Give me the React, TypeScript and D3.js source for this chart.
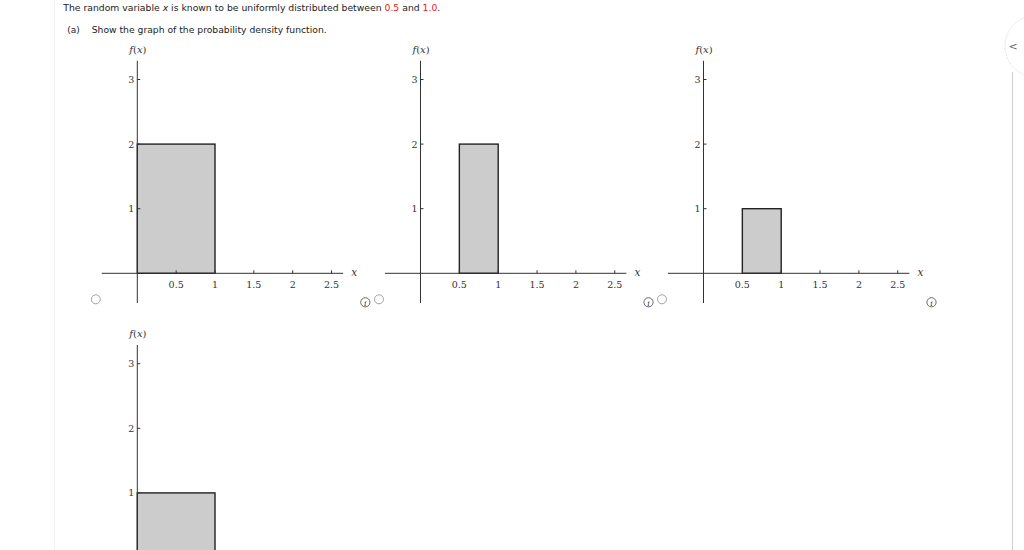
import React from "react";
import * as d3 from "d3";

// ---- data ----
const xTicks = [0.5, 1, 1.5, 2, 2.5];
const xTickLabels = ["0.5", "1", "1.5", "2", "2.5"];
const yTicks = [1, 2, 3];
const yTickLabels = ["1", "2", "3"];
const optionStart = [0, 0.5, 0.5, 0];
const optionEnd = [1, 1, 1, 1];
const optionHeight = [2, 2, 1, 1];
const hasInfo = [true, true, true, false];

// ---- layout ----
const W = 1024;
const H = 550;
const origins: [number, number][] = [
  [137.3, 273.3],
  [420.5, 273.3],
  [703.5, 273.3],
  [137.3, 557.5],
];
const pxPerX = 77.7;
const pxPerY = 64.6;

const serif = "'DejaVu Serif', 'Liberation Serif', serif";
const sans = "'DejaVu Sans', Verdana, sans-serif";

function Chart({ idx }: { idx: number }) {
  const [ox, oy] = origins[idx];
  const x = d3.scaleLinear().domain([0, 1]).range([ox, ox + pxPerX]);
  const y = d3.scaleLinear().domain([0, 1]).range([oy, oy - pxPerY]);
  const x0 = optionStart[idx];
  const x1 = optionEnd[idx];
  const h = optionHeight[idx];
  const visible = y(0) < H; // parts below the window are not drawn
  return (
    <g>
      {/* bar */}
      <rect
        x={x(x0)}
        y={y(h)}
        width={x(x1) - x(x0)}
        height={y(0) - y(h)}
        fill="#cccccc"
        stroke="#222"
        strokeWidth={1.4}
      />
      {/* axes */}
      <line x1={x(-0.458)} x2={x(2.65)} y1={y(0)} y2={y(0)} stroke="#333" strokeWidth={1} />
      <line x1={x(0)} x2={x(0)} y1={y(3.29)} y2={y(-0.46)} stroke="#333" strokeWidth={1} />
      {visible &&
        xTicks.map((t, i) => (
          <g key={"xt" + i}>
            <line x1={x(t)} x2={x(t)} y1={y(0)} y2={y(0) - 3} stroke="#333" strokeWidth={1} />
            <text
              x={x(t)}
              y={y(0) + 15}
              textAnchor="middle"
              fontFamily={serif}
              fontSize={9.5}
              fill="#333"
            >
              {xTickLabels[i]}
            </text>
          </g>
        ))}
      {yTicks.map((t, i) => (
        <g key={"yt" + i}>
          <line x1={x(0)} x2={x(0) + 3} y1={y(t)} y2={y(t)} stroke="#333" strokeWidth={1} />
          <text
            x={x(0) - 3}
            y={y(t) + 3.5}
            textAnchor="end"
            fontFamily={serif}
            fontSize={9.5}
            fill="#333"
          >
            {yTickLabels[i]}
          </text>
        </g>
      ))}
      {visible && (
        <text x={x(2.65) + 8} y={y(0) + 3} fontFamily={serif} fontStyle="italic" fontSize={10.5} fill="#333">
          x
        </text>
      )}
      <text x={x(0) - 8} y={y(3.29) - 8} fontFamily={serif} fontSize={10} fill="#333">
        <tspan fontStyle="italic">f</tspan>
        <tspan>(</tspan>
        <tspan fontStyle="italic">x</tspan>
        <tspan>)</tspan>
      </text>
      {visible && (
        <circle cx={x(0) - 41.5} cy={y(0) + 26} r={4.5} fill="#fff" stroke="#999" strokeWidth={0.9} />
      )}
      {hasInfo[idx] && (
        <g>
          <circle cx={x(0) + 228} cy={y(0) + 29} r={4.6} fill="#fff" stroke="#444" strokeWidth={0.8} />
          <text
            x={x(0) + 228}
            y={y(0) + 32.3}
            textAnchor="middle"
            fontFamily={serif}
            fontStyle="italic"
            fontSize={8}
            fill="#333"
          >
            i
          </text>
        </g>
      )}
    </g>
  );
}

export default function App() {
  return (
    <div style={{ position: "fixed", left: 0, top: 0, width: W, height: H, background: "#fff" }}>
      <svg width={W} height={H} style={{ display: "block" }}>
        <rect x={0} y={0} width={W} height={H} fill="#fff" />
        <line x1={54.5} x2={54.5} y1={0} y2={H} stroke="#f0f0f0" strokeWidth={1} />
        <line x1={1012.5} x2={1012.5} y1={72} y2={H} stroke="#cccccc" strokeWidth={1} />
        <circle cx={1036} cy={46} r={31} fill="none" stroke="#e4e4e4" strokeWidth={1} strokeDasharray="2 1" />
        <text x={1013} y={50} textAnchor="middle" fontFamily={sans} fontSize={11} fill="#666">
          &lt;
        </text>
        <text x={63.3} y={10.5} fontFamily={sans} fontSize={9} fill="#222" textLength={377} lengthAdjust="spacingAndGlyphs">
          <tspan>The random variable </tspan>
          <tspan fontStyle="italic">x</tspan>
          <tspan> is known to be uniformly distributed between </tspan>
          <tspan fill="#e8201c">0.5</tspan>
          <tspan> and </tspan>
          <tspan fill="#e8201c">1.0</tspan>
          <tspan>.</tspan>
        </text>
        <text x={67.3} y={33} fontFamily={sans} fontSize={9} fill="#222">
          (a)
        </text>
        <text x={91.7} y={33} fontFamily={sans} fontSize={9} fill="#222" textLength={235} lengthAdjust="spacingAndGlyphs">
          Show the graph of the probability density function.
        </text>
        {origins.map((_, i) => (
          <Chart key={i} idx={i} />
        ))}
      </svg>
    </div>
  );
}
